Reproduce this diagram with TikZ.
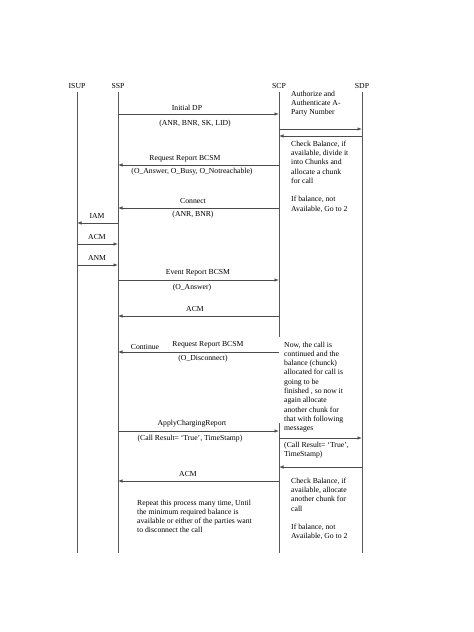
\documentclass[tikz,border=0pt]{standalone}
\usepackage{fontspec}
\setmainfont{Liberation Serif}
\usetikzlibrary{arrows.meta,calc}
\tikzset{
  lifeline/.style={
    draw=black!65,
    line width=0.8pt
  },
  message/.style={
    draw=black!70,
    line width=0.8pt,
    -{Latex[length=4.5pt,width=3.5pt]}
  },
  msglabel/.style={
    inner sep=0pt,
    font=\fontsize{7.7}{9.3}\selectfont
  },
  note/.style={
    inner sep=0pt,
    align=left,
    anchor=north west,
    font=\fontsize{7.7}{9.3}\selectfont
  }
}

\begin{document}
\begin{tikzpicture}[x=1pt,y=-1pt]
        \useasboundingbox (0,0) rectangle (474,632);
        % entities and lifelines
        \node[msglabel] (isup) at (77,86) {ISUP};
        \node[msglabel] (ssp) at (118,86) {SSP};
        \node[msglabel] (scp) at (279,86) {SCP};
        \node[msglabel] (sdp) at (362,86) {SDP};
        \coordinate (isupend) at (77,553);
        \coordinate (sspend) at (118,553);
        \coordinate (scpgap) at (279,337);
        \coordinate (scpback) at (279,423);
        \coordinate (scpend) at (279,553);
        \coordinate (sdpend) at (362,553);
        \draw[lifeline] ([yshift=-3pt]isup.south) -- (isupend);
        \draw[lifeline] ([yshift=-3pt]ssp.south) -- (sspend);
        \draw[lifeline] ([yshift=-3pt]scp.south) -- (scpgap);
        \draw[lifeline] (scpback) -- (scpend);
        \draw[lifeline] ([yshift=-3pt]sdp.south) -- (sdpend);
        % initial DP
        \draw[message] (ssp |- 0,114) -- (scp |- 0,114);
        \node[msglabel] (initdp) at (187,107.5) {Initial DP};
        \node[msglabel] (initpar) at (195,123.5) {(ANR, BNR, SK, LID)};
        \node[note] (authnote) at (291,90.5) {Authorize and\\Authenticate A-\\Party Number};
        \draw[message] (scp |- 0,129) -- (sdp |- 0,129);
        \draw[message] (sdp |- 0,136) -- (scp |- 0,136);
        \node[note] (checknote) at (291,140.5) {Check Balance, if\\available, divide it\\into Chunks and\\allocate a chunk\\for call\\[9.3pt]If balance, not\\Available, Go to 2};
        % request report
        \draw[message] (scp |- 0,165) -- (ssp |- 0,165);
        \node[msglabel] (rrb) at (185,158.5) {Request Report BCSM};
        \node[msglabel] (rrbpar) at (192,172) {(O\_Answer, O\_Busy, O\_Notreachable)};
        % connect
        \draw[message] (scp |- 0,208) -- (ssp |- 0,208);
        \node[msglabel] (conn) at (193,201) {Connect};
        \node[msglabel] (connpar) at (193,215) {(ANR, BNR)};
        % ISUP signalling
        \draw[message] (ssp |- 0,223) -- (isup |- 0,223);
        \node[msglabel] (iam) at (97,216) {IAM};
        \draw[message] (isup |- 0,244) -- (ssp |- 0,244);
        \node[msglabel] (acm) at (97,237) {ACM};
        \draw[message] (isup |- 0,265) -- (ssp |- 0,265);
        \node[msglabel] (anm) at (97,258) {ANM};
        % event report
        \draw[message] (ssp |- 0,280) -- (scp |- 0,280);
        \node[msglabel] (erb) at (198,273) {Event Report BCSM};
        \node[msglabel] (erbpar) at (192,288) {(O\_Answer)};
        \draw[message] (scp |- 0,316) -- (ssp |- 0,316);
        \node[msglabel] (acmscp) at (195,309) {ACM};
        % continue
        \draw[message] (scp |- 0,352) -- (ssp |- 0,352);
        \node[msglabel] (rrbtwo) at (208,345) {Request Report BCSM};
        \node[msglabel] (cont) at (145,347) {Continue};
        \node[msglabel] (rrbtwopar) at (203,359) {(O\_Disconnect)};
        \node[note] (nownote) at (284,341.5) {Now, the call is\\continued and the\\balance (chunck)\\allocated for call is\\going to be\\finished , so now it\\again allocate\\another chunk for\\that with following\\messages};
        % apply charging report
        \draw[message] (ssp |- 0,431) -- (scp |- 0,431);
        \node[msglabel] (acr) at (192,424) {ApplyChargingReport};
        \node[msglabel] (acrpar) at (190,439) {(Call Result= `True', TimeStamp)};
        \draw[message] (scp |- 0,438) -- (sdp |- 0,438);
        \node[note] (acrnote) at (284,441.5) {(Call Result= `True',\\TimeStamp)};
        \draw[message] (sdp |- 0,467) -- (scp |- 0,467);
        \draw[message] (scp |- 0,481) -- (ssp |- 0,481);
        \node[msglabel] (acmlast) at (188,474) {ACM};
        \node[note] (checkagain) at (291,477.5) {Check Balance, if\\available, allocate\\another chunk for\\call\\[9.3pt]If balance, not\\Available, Go to 2};
        \node[note] (repeatnote) at (137,499.5) {Repeat this process many time, Until\\the minimum required balance is\\available or either of the parties want\\to disconnect the call};
\end{tikzpicture}
\end{document}
